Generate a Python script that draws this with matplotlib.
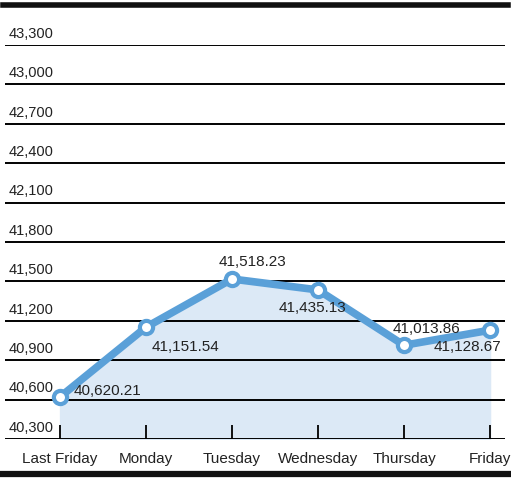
import matplotlib.pyplot as plt
from matplotlib.lines import Line2D

# === Data ===
days = ["Last Friday", "Monday", "Tuesday", "Wednesday", "Thursday", "Friday"]
closes = [40620.21, 41151.54, 41518.23, 41435.13, 41013.86, 41128.67]
y_ticks = [40300, 40600, 40900, 41200, 41500, 41800, 42100, 42400, 42700, 43000, 43300]

# label offsets (points) and alignment for each value label
label_offsets = [(10, 4), (4, -14), (-10, 12), (-4, -13), (-8, 12), (8, -12)]
label_ha = ["left", "left", "left", "center", "left", "right"]

plt.rcParams['font.family'] = ['Liberation Sans Narrow', 'Liberation Sans', 'DejaVu Sans']

fig = plt.figure(figsize=(5.11, 4.8), dpi=100)
ax = fig.add_axes([5 / 511, 41 / 480, 500 / 511, 394 / 480])

x = list(range(len(days)))
line_color = '#5aa0d8'

ax.fill_between(x, closes, 40300, color='#dce9f6', zorder=1)
for yt in y_ticks:
    ax.axhline(yt, color='black', lw=1.4, zorder=2)
ax.plot(x, closes, color=line_color, lw=5.5, zorder=3, solid_capstyle='round')
ax.plot(x, closes, 'o', ms=9.5, mfc='white', mec=line_color, mew=3, zorder=4)

for xi, val, off, ha in zip(x, closes, label_offsets, label_ha):
    ax.annotate(f"{val:,.2f}", (xi, val), xytext=off, textcoords='offset points',
                ha=ha, va='center', fontsize=11, color='#222222', zorder=5)

# y labels sit above each gridline, at the left edge
for yt in y_ticks:
    ax.annotate(f"{yt:,}", (0, yt), xycoords=('axes fraction', 'data'),
                xytext=(2.5, 3), textcoords='offset points',
                ha='left', va='bottom', fontsize=10.5, color='#222222')

ax.set_xlim(-0.64, 5.174)
ax.set_ylim(40300, 43300)
ax.set_xticks(x)
ax.set_xticklabels(days, fontsize=11, color='#222222')
ax.tick_params(axis='x', direction='in', length=10, width=1.3, pad=9, colors='black',
               labelcolor='#222222')
ax.set_yticks([])
for s in ax.spines.values():
    s.set_visible(False)
ax.set_facecolor('none')

# thick rules at top and bottom
fig.add_artist(Line2D([3 / 511, 508 / 511], [1 - 5 / 480, 1 - 5 / 480], color='#111111', lw=4, transform=fig.transFigure))
fig.add_artist(Line2D([3 / 511, 508 / 511], [1 - 474 / 480, 1 - 474 / 480], color='#111111', lw=4.5, transform=fig.transFigure))

fig.savefig('out.png', dpi=100)
